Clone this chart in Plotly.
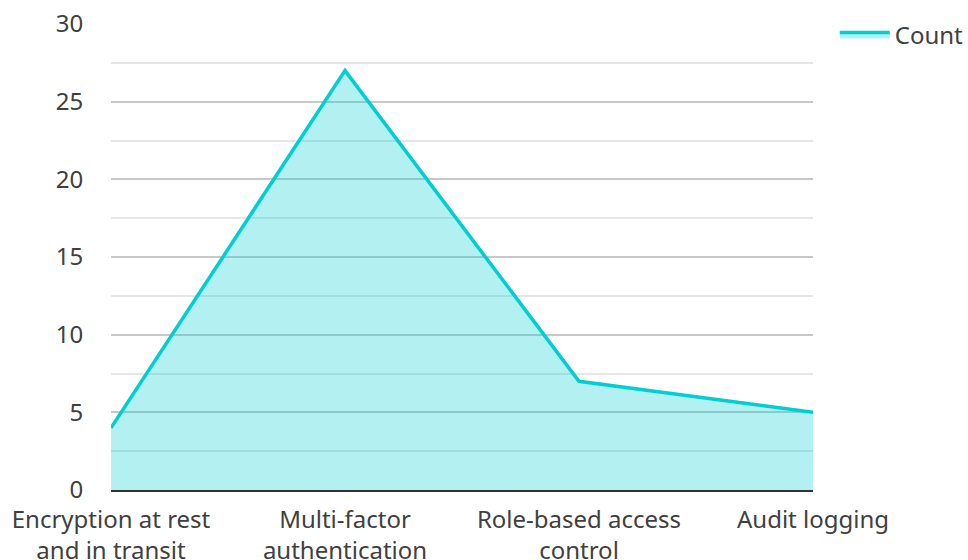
import plotly.graph_objects as go

# Security controls and how often each was reported
categories = [
    "Encryption at rest and in transit",
    "Multi-factor authentication",
    "Role-based access control",
    "Audit logging",
]
tick_labels = [
    "Encryption at rest<br>and in transit",
    "Multi-factor<br>authentication",
    "Role-based access<br>control",
    "Audit logging",
]
counts = [4, 27, 7, 5]
y_ticks = [0, 5, 10, 15, 20, 25, 30]

LINE = "#00CED1"
FILL = "rgba(0,206,209,0.30)"
TEXT = "#404040"

fig = go.Figure(
    go.Scatter(
        x=categories,
        y=counts,
        name="Count",
        mode="lines",
        line=dict(color=LINE, width=3.5),
        fill="tozeroy",
        fillcolor=FILL,
    )
)

fig.update_layout(
    width=968,
    height=560,
    margin=dict(l=111, r=155, t=24, b=70, autoexpand=False),
    paper_bgcolor="white",
    plot_bgcolor="white",
    font=dict(family="Noto Sans, Open Sans, sans-serif", size=24, color=TEXT),
    showlegend=True,
    legend=dict(
        x=1.031, xanchor="left", y=1.025, yanchor="top",
        font=dict(size=24, color=TEXT),
        bgcolor="rgba(0,0,0,0)",
        itemwidth=50,
    ),
    xaxis=dict(
        type="category",
        range=[0, len(categories) - 1],
        tickvals=categories,
        ticktext=tick_labels,
        showgrid=False,
        showline=True,
        linecolor="#333333",
        linewidth=2,
        ticks="outside",
        ticklen=7,
        tickcolor="rgba(0,0,0,0)",
        tickfont=dict(size=24, color=TEXT),
        zeroline=False,
        automargin=False,
    ),
    yaxis=dict(
        range=[0, 30],
        tickvals=y_ticks,
        showgrid=True,
        gridcolor="#c8c8c8",
        gridwidth=1.5,
        minor=dict(dtick=2.5, showgrid=True, gridcolor="#e6e6e6", gridwidth=1.5),
        showline=False,
        zeroline=False,
        ticks="outside",
        ticklen=22,
        tickcolor="rgba(0,0,0,0)",
        tickfont=dict(size=24, color=TEXT),
        automargin=False,
    ),
)

fig.write_html("out.html")
